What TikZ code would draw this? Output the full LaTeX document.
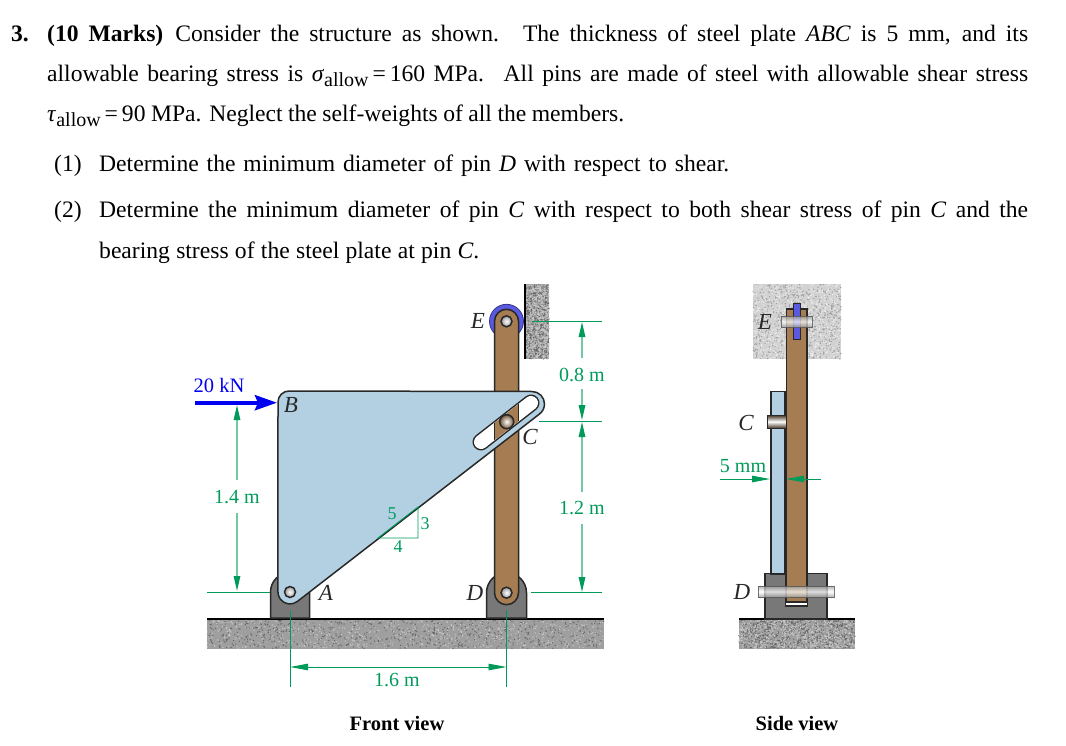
\documentclass[tikz,border=0pt]{standalone}
\usepackage{fontspec}
\setmainfont{Liberation Serif}
\usetikzlibrary{arrows.meta}
\definecolor{dimgreen}{RGB}{0,155,90}
\definecolor{platecol}{RGB}{178,208,226}
\definecolor{barcol}{RGB}{166,124,82}
\definecolor{ringcol}{RGB}{90,90,225}
\definecolor{edgecol}{RGB}{40,40,40}
\definecolor{supportcol}{RGB}{120,120,120}
\definecolor{forcecol}{RGB}{0,0,240}
\newcommand{\bodyfont}{\fontsize{23.6}{26}\selectfont}
\newcommand{\subtext}[1]{\raisebox{-5pt}{\fontsize{20}{22}\selectfont #1}}
\newcommand{\fitline}[2]{\hbox to #1pt{#2}}
% speckled concrete: x1 y1 x2 y2 base dark light
\newcommand{\speckle}[7]{%
  \fill[#5] (#1,#2) rectangle (#3,#4);
  \fill[#6] \foreach \i in {1,...,700}{({#1+rnd*(#3-#1)},{#2+rnd*(#4-#2)}) circle[radius=0.7]};
  \fill[#7] \foreach \i in {1,...,700}{({#1+rnd*(#3-#1)},{#2+rnd*(#4-#2)}) circle[radius=0.7]};
}
\tikzset{
  textline/.style={anchor=base west,inner sep=0pt,font=\bodyfont},
  edgeline/.style={draw=edgecol,line width=1.5pt},
  dimline/.style={draw=dimgreen,line width=0.9pt},
  dimarrow/.style={draw=dimgreen!55,line width=1.3pt,-{Triangle[length=15pt,width=6.5pt,color=dimgreen]}},
  dimtext/.style={inner sep=0pt,text=dimgreen,font=\fontsize{20}{22}\selectfont},
  pointlabel/.style={inner sep=0pt,text=edgecol,font=\fontsize{23}{26}\selectfont\itshape},
  viewlabel/.style={inner sep=0pt,font=\fontsize{20.5}{22}\selectfont\bfseries},
  pinball/.style={edgeline,inner color=white,outer color=gray!80},
  sidepin/.style={draw=gray!60!black,line width=1pt,opacity=0.75,top color=gray!75,bottom color=gray!75,middle color=white},
}
\begin{document}
\begin{tikzpicture}[x=1pt,y=-1pt]
  \useasboundingbox (0,0) rectangle (1066,746);
  \pgfmathsetseed{4711}
  % Question text
  \node[textline] (num) at (11,42) {\textbf{3.}};
  \node[textline] (line1) at (47,42) {\fitline{981}{\textbf{(10 Marks)}\hspace{12pt}Consider the structure as shown.\hspace{4pt} The thickness of steel plate \textit{ABC} is 5 mm, and its}};
  \node[textline] (line2) at (47,82) {\fitline{981}{allowable bearing stress is \textit{σ}\subtext{allow}\,=\,160 MPa.\hspace{4pt} All pins are made of steel with allowable shear stress}};
  \node[textline] (line3) at (47,122) {\fitline{577}{\textit{τ}\subtext{allow}\,=\,90 MPa. Neglect the self-weights of all the members.}};
  \node[textline] (itemA) at (54,172) {(1)};
  \node[textline] (lineA) at (99,172) {\fitline{630}{Determine the minimum diameter of pin \textit{D} with respect to shear.}};
  \node[textline] (itemB) at (54,218) {(2)};
  \node[textline] (lineB) at (99,218) {\fitline{929}{Determine the minimum diameter of pin \textit{C} with respect to both shear stress of pin \textit{C} and the}};
  \node[textline] (lineC) at (99,259) {\fitline{380}{bearing stress of the steel plate at pin \textit{C}.}};
  % Wall and ground, front view
  \speckle{525}{284.5}{549}{359}{gray!75}{black!60}{gray!45}
  \draw[black,line width=2.5pt] (525,284.5) -- (525,359);
  \speckle{207}{619}{604}{648.5}{gray!75}{black!60}{gray!45}
  \draw[black,line width=2.5pt] (207,619) -- (604,619);
  % Supports at A and D
  \draw[edgeline,fill=supportcol] (270.5,618) -- (270.5,592) arc[start angle=180,end angle=360,radius=19.5] -- (309.5,618) -- cycle;
  \draw[edgeline,fill=supportcol] (486.5,618) -- (486.5,592.7) arc[start angle=180,end angle=360,radius=20] -- (526.5,618) -- cycle;
  % Bracket and bar DE
  \draw[draw=ringcol!60!black,line width=0.8pt,fill=ringcol] (506.5,321.3) circle[radius=17];
  \draw[edgeline,fill=barcol] (494.5,321.3) arc[start angle=180,end angle=360,radius=12] -- (518.5,592.7) arc[start angle=0,end angle=180,radius=12] -- cycle;
  % Plate ABC
  \draw[edgeline,fill=platecol] (278,402) arc[start angle=180,end angle=270,radius=11] -- (532,391.5) arc[start angle=-90,end angle=52.3,radius=12.5] -- (297.3,601.5) arc[start angle=52.3,end angle=180,radius=12] -- cycle;
  % Slot with the bar seen through it
  \coordinate (slotA) at (481,442);
  \coordinate (slotB) at (531,403);
  \draw[edgecol,line width=17pt,line cap=round] (slotA) -- (slotB);
  \draw[white,line width=14pt,line cap=round] (slotA) -- (slotB);
  \fill[barcol] (494.5,422.8) -- (518.5,404.1) -- (518.5,421.4) -- (494.5,440.1) -- cycle;
  \draw[edgeline] (494.5,422.8) -- (494.5,440.1);
  \draw[edgeline] (518.5,404.1) -- (518.5,421.4);
  % Pins, front view
  \draw[pinball] (290,592) circle[radius=5.5];
  \draw[pinball] (506.5,592.7) circle[radius=5.5];
  \draw[pinball] (506.5,321.3) circle[radius=5.5];
  \draw[edgeline,inner color=white,outer color=barcol!70!black] (506.7,421.7) circle[radius=7];
  % Force
  \node[inner sep=0pt,text=forcecol,font=\fontsize{20.5}{22}\selectfont] (forcetext) at (219,385) {20 kN};
  \coordinate (forcestart) at (195,402.7);
  \coordinate (forceend) at (277,402.7);
  \draw[forcecol,line width=4pt,-{Stealth[length=22pt,width=15pt,inset=3pt]}] (forcestart) -- (forceend);
  % Dimension 1.4 m
  \node[dimtext] (dimleft) at (237,497) {1.4 m};
  \coordinate (leftA) at (237,480);
  \coordinate (leftB) at (237,405);
  \coordinate (leftC) at (237,513);
  \coordinate (leftD) at (237,591);
  \coordinate (extAa) at (207,592);
  \coordinate (extAb) at (270,592);
  \draw[dimarrow] (leftA) -- (leftB);
  \draw[dimarrow] (leftC) -- (leftD);
  \draw[dimline] (extAa) -- (extAb);
  % Dimension 1.6 m
  \node[dimtext] (dimbottom) at (397,680) {1.6 m};
  \coordinate (botAa) at (290,611);
  \coordinate (botAb) at (290,687);
  \coordinate (botDa) at (506.5,610);
  \coordinate (botDb) at (506.5,687);
  \coordinate (botL) at (290,667);
  \coordinate (botR) at (506.5,667);
  \draw[dimline] (botAa) -- (botAb);
  \draw[dimline] (botDa) -- (botDb);
  \draw[dimline,{Triangle[length=18pt,width=6.5pt,color=dimgreen]}-{Triangle[length=18pt,width=6.5pt,color=dimgreen]}] (botL) -- (botR);
  % Dimensions 0.8 m and 1.2 m
  \node[dimtext] (dimtop) at (582,375) {0.8 m};
  \node[dimtext] (dimlow) at (582,508) {1.2 m};
  \coordinate (extEa) at (532,321.3);
  \coordinate (extEb) at (602,321.3);
  \coordinate (extCa) at (539,421);
  \coordinate (extCb) at (602,421);
  \coordinate (extDa) at (531,592.7);
  \coordinate (extDb) at (602,592.7);
  \coordinate (rightA) at (582,358);
  \coordinate (rightB) at (582,322);
  \coordinate (rightC) at (582,389);
  \coordinate (rightD) at (582,420);
  \coordinate (rightE) at (582,492);
  \coordinate (rightF) at (582,422);
  \coordinate (rightG) at (582,524);
  \coordinate (rightH) at (582,592);
  \draw[dimline] (extEa) -- (extEb);
  \draw[dimline] (extCa) -- (extCb);
  \draw[dimline] (extDa) -- (extDb);
  \draw[dimarrow] (rightA) -- (rightB);
  \draw[dimarrow] (rightC) -- (rightD);
  \draw[dimarrow] (rightE) -- (rightF);
  \draw[dimarrow] (rightG) -- (rightH);
  % Slope triangle
  \coordinate (slopeA) at (378,538);
  \coordinate (slopeB) at (418,538);
  \coordinate (slopeC) at (418,507);
  \draw[dimline] (slopeA) -- (slopeB) -- (slopeC) -- cycle;
  \node[dimtext,font=\fontsize{18}{20}\selectfont] (slopefive) at (392,514) {5};
  \node[dimtext,font=\fontsize{18}{20}\selectfont] (slopethree) at (425,524) {3};
  \node[dimtext,font=\fontsize{18}{20}\selectfont] (slopefour) at (398,547) {4};
  % Point labels, front view
  \node[pointlabel] (labB) at (291,405) {B};
  \node[pointlabel] (labE) at (478,321) {E};
  \node[pointlabel] (labC) at (530,437) {C};
  \node[pointlabel] (labA) at (326,593) {A};
  \node[pointlabel] (labD) at (475,593) {D};
  \node[viewlabel] (front) at (397,723) {Front view};
  % Side view: wall and ground
  \speckle{753}{284.5}{841}{359}{gray!35}{gray!75}{gray!15}
  \speckle{739}{619}{855}{648.5}{gray!75}{black!60}{gray!45}
  \draw[black,line width=2.5pt] (739,619) -- (855,619);
  % Side view: support
  \draw[edgeline,fill=supportcol] (765,619) -- (765,573.5) -- (827,573.5) -- (827,619) -- cycle;
  \draw[edgeline,fill=white] (785.5,560) -- (785.5,606) -- (807.5,606) -- (807.5,560);
  % Side view: plate and bar
  \draw[edgeline,fill=platecol] (771,391.5) rectangle (785,574);
  \draw[edgeline,fill=barcol] (786.5,309) rectangle (807,602);
  \draw[edgecol,line width=1.5pt] (785.7,391.5) -- (785.7,574);
  % Side view: pins
  \draw[draw=edgecol,line width=1pt,fill=ringcol] (793,303) rectangle (800,339);
  \draw[sidepin] (781,316) rectangle (812,327);
  \draw[sidepin] (758,586) rectangle (834,597);
  \draw[edgecol,line width=1pt,top color=barcol!40!black,bottom color=barcol!40!black,middle color=white] (767,415) rectangle (786,428.3);
  % Dimension 5 mm
  \node[dimtext] (dimthick) at (743,466) {5 mm};
  \coordinate (thickA) at (720,479);
  \coordinate (thickB) at (770,479);
  \coordinate (thickC) at (821,479);
  \coordinate (thickD) at (786,479);
  \draw[dimline,-{Triangle[length=18pt,width=6.5pt,color=dimgreen]}] (thickA) -- (thickB);
  \draw[dimline,-{Triangle[length=18pt,width=6.5pt,color=dimgreen]}] (thickC) -- (thickD);
  % Point labels, side view
  \node[pointlabel] (labEs) at (765,322) {E};
  \node[pointlabel] (labCs) at (746,423) {C};
  \node[pointlabel] (labDs) at (742,592) {D};
  \node[viewlabel] (side) at (797,723) {Side view};
\end{tikzpicture}
\end{document}
